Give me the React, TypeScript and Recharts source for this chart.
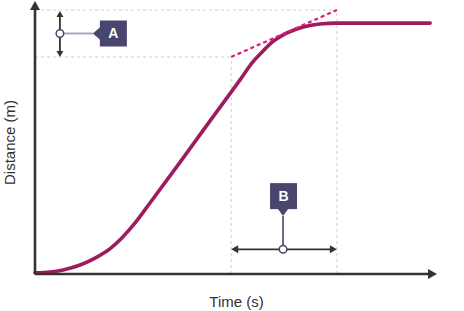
import React from "react";
import { ComposedChart, Line, XAxis, YAxis, ReferenceLine, ReferenceDot } from "recharts";

// Time (arbitrary units 0-100) and distance (arbitrary units 0-100)
const timeValues = [0, 3.7, 7.0, 11.2, 15.4, 18.7, 21.6, 24.9, 28.6, 36.1, 43.5, 51.0, 54.2, 56.5, 58.5, 62.7, 66.7, 70.9, 74.9, 98.3];
const distanceValues = [0.4, 0.7, 1.5, 3.3, 6.2, 9.3, 13.2, 18.7, 26.0, 41.0, 56.0, 71.1, 77.7, 81.3, 84.3, 88.3, 90.5, 91.6, 91.9, 91.9];

// guide / tangent points
const tangentTimes = [48.8, 75.1];
const tangentDistances = [79.5, 96.7];

// annotation positions
const markerATime = 6.2;
const markerADistance = 88.1;
const labelATime = 14.4;
const markerBTime = 61.7;
const markerBDistance = 9.05;
const labelBDistance = 21.2;

const axisMax = 100;
const xLabel = "Time (s)";
const yLabel = "Distance (m)";

const data = timeValues.map((t, i) => ({ t, d: distanceValues[i] }));

const DARK = "#333333";
const BOX = "#48466d";
const GUIDE = "#cfcde0";
const FONT = "'Liberation Sans', Arial, sans-serif";

const ArrowLine = (props: any) => {
  const { x1, y1, x2, y2, both, color, width, head, headW } = props;
  const dx = x2 - x1;
  const dy = y2 - y1;
  const len = Math.sqrt(dx * dx + dy * dy) || 1;
  const ux = dx / len;
  const uy = dy / len;
  const px = -uy;
  const py = ux;
  const h = head;
  const w = headW / 2;
  const tri = (tx: number, ty: number, dirx: number, diry: number) => {
    const bx = tx - dirx * h;
    const by = ty - diry * h;
    return `${tx},${ty} ${bx + px * w},${by + py * w} ${bx - px * w},${by - py * w}`;
  };
  const sx = both ? x1 + ux * (h - 1) : x1;
  const sy = both ? y1 + uy * (h - 1) : y1;
  const ex = x2 - ux * (h - 1);
  const ey = y2 - uy * (h - 1);
  return (
    <g>
      <line x1={sx} y1={sy} x2={ex} y2={ey} stroke={color} strokeWidth={width} />
      <polygon points={tri(x2, y2, ux, uy)} fill={color} />
      {both ? <polygon points={tri(x1, y1, -ux, -uy)} fill={color} /> : null}
    </g>
  );
};

const LabelA = (props: any) => {
  const { cx, cy } = props;
  return (
    <g>
      <polygon points={`${cx},${cy} ${cx + 7.5},${cy - 6.5} ${cx + 7.5},${cy + 6.5}`} fill={BOX} />
      <rect x={cx + 7} y={cy - 13} width={27} height={26} fill={BOX} />
      <text x={cx + 20.5} y={cy + 5} textAnchor="middle" fill="#ffffff" fontFamily={FONT} fontWeight="bold" fontSize={14}>A</text>
    </g>
  );
};

const LabelB = (props: any) => {
  const { cx, cy } = props;
  return (
    <g>
      <polygon points={`${cx},${cy} ${cx - 5.5},${cy - 7.5} ${cx + 5.5},${cy - 7.5}`} fill={BOX} />
      <rect x={cx - 13} y={cy - 33} width={27} height={26} fill={BOX} />
      <text x={cx + 0.5} y={cy - 15} textAnchor="middle" fill="#ffffff" fontFamily={FONT} fontWeight="bold" fontSize={14}>B</text>
    </g>
  );
};

const OpenCircle = (props: any) => {
  const { cx, cy } = props;
  return <circle cx={cx} cy={cy} r={3.8} fill="#ffffff" stroke={BOX} strokeWidth={1.5} />;
};

export default function App() {
  return (
    <div style={{ position: "absolute", left: 0, top: 0, width: 464, height: 311, background: "#ffffff" }}>
      <ComposedChart width={464} height={311} data={data} margin={{ top: 1, right: 27, bottom: 37, left: 35 }}>
        <XAxis type="number" dataKey="t" domain={[0, axisMax]} hide />
        <YAxis type="number" domain={[0, axisMax]} hide />

        {/* guide lines */}
        <ReferenceLine segment={[{ x: 0, y: tangentDistances[1] }, { x: tangentTimes[1], y: tangentDistances[1] }]} stroke={GUIDE} strokeDasharray="3 3" strokeWidth={1} />
        <ReferenceLine segment={[{ x: 0, y: tangentDistances[0] }, { x: tangentTimes[0], y: tangentDistances[0] }]} stroke={GUIDE} strokeDasharray="3 3" strokeWidth={1} />
        <ReferenceLine segment={[{ x: tangentTimes[0], y: 0 }, { x: tangentTimes[0], y: tangentDistances[0] }]} stroke={GUIDE} strokeDasharray="3 3" strokeWidth={1} />
        <ReferenceLine segment={[{ x: tangentTimes[1], y: 0 }, { x: tangentTimes[1], y: tangentDistances[1] }]} stroke={GUIDE} strokeDasharray="3 3" strokeWidth={1} />

        <Line type="monotone" dataKey="d" stroke="#9e1b5d" strokeWidth={3.6} dot={false} isAnimationActive={false} strokeLinecap="round" />

        {/* tangent */}
        <ReferenceLine segment={[{ x: tangentTimes[0], y: tangentDistances[0] }, { x: tangentTimes[1], y: tangentDistances[1] }]} stroke="#e6177b" strokeDasharray="4 3" strokeWidth={2.2} />

        {/* axes */}
        <ReferenceLine segment={[{ x: 0, y: 0 }, { x: axisMax, y: 0 }]} shape={(p: any) => <ArrowLine {...p} color={DARK} width={2.6} head={9} headW={10} />} />
        <ReferenceLine segment={[{ x: 0, y: 0 }, { x: 0, y: axisMax }]} shape={(p: any) => <ArrowLine {...p} color={DARK} width={2.6} head={9} headW={10} />} />

        {/* annotation A */}
        <ReferenceLine segment={[{ x: markerATime, y: markerADistance }, { x: labelATime, y: markerADistance }]} stroke="#a9a7bb" strokeWidth={2} />
        <ReferenceLine segment={[{ x: markerATime, y: tangentDistances[0] }, { x: markerATime, y: tangentDistances[1] - 0.4 }]} shape={(p: any) => <ArrowLine {...p} both color={DARK} width={1.8} head={6} headW={7} />} />
        <ReferenceDot x={markerATime} y={markerADistance} r={4} shape={OpenCircle} />
        <ReferenceDot x={labelATime} y={markerADistance} r={4} shape={LabelA} />

        {/* annotation B */}
        <ReferenceLine segment={[{ x: markerBTime, y: markerBDistance }, { x: markerBTime, y: labelBDistance }]} stroke={BOX} strokeWidth={1.6} />
        <ReferenceLine segment={[{ x: tangentTimes[0], y: markerBDistance }, { x: tangentTimes[1], y: markerBDistance }]} shape={(p: any) => <ArrowLine {...p} both color={DARK} width={1.8} head={7} headW={8} />} />
        <ReferenceDot x={markerBTime} y={markerBDistance} r={4} shape={OpenCircle} />
        <ReferenceDot x={markerBTime} y={labelBDistance} r={4} shape={LabelB} />

        <text x={236.5} y={306.5} textAnchor="middle" fontFamily={FONT} fontSize={15} fill={DARK}>{xLabel}</text>
        <text x={15} y={142.5} transform="rotate(-90 15 142.5)" textAnchor="middle" fontFamily={FONT} fontSize={15} fill={DARK}>{yLabel}</text>
      </ComposedChart>
    </div>
  );
}
